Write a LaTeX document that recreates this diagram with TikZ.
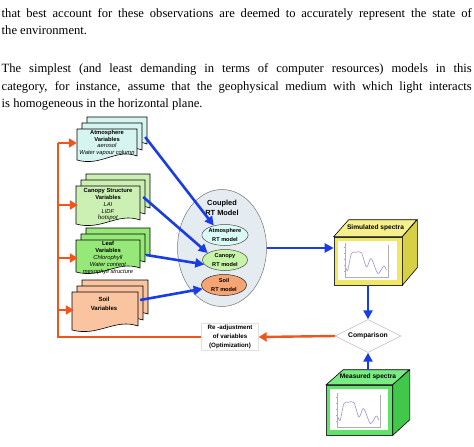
\documentclass[tikz,border=0pt]{standalone}
\usepackage{fontspec}
\setmainfont{Liberation Serif}
\setsansfont{Liberation Sans}
\usetikzlibrary{arrows.meta,shapes.geometric}

\definecolor{fbred}{RGB}{240,85,30}
\definecolor{linkblue}{RGB}{25,60,230}
\definecolor{atmfill}{RGB}{214,245,240}
\definecolor{canfill}{RGB}{204,240,180}
\definecolor{leaffill}{RGB}{150,232,120}
\definecolor{soilfill}{RGB}{250,196,160}
\definecolor{coupledfill}{RGB}{228,236,242}
\definecolor{atmrtfill}{RGB}{218,250,245}
\definecolor{canrtfill}{RGB}{200,244,170}
\definecolor{soilrtfill}{RGB}{245,165,115}
\definecolor{simfront}{RGB}{240,232,100}
\definecolor{simtop}{RGB}{245,240,140}
\definecolor{simside}{RGB}{215,208,70}
\definecolor{measfront}{RGB}{95,228,105}
\definecolor{meastop}{RGB}{120,236,130}
\definecolor{measside}{RGB}{65,200,75}
\definecolor{plotline}{RGB}{150,150,215}
\definecolor{plotaxis}{RGB}{175,175,175}

\tikzset{
  bodyline/.style = {anchor = base west, inner sep = 0pt,
      font = \fontsize{12.6}{17.3}\selectfont},
  varlabel/.style = {align = center, inner sep = 0pt, minimum width = 60pt,
      font = \sffamily\fontsize{5.8}{6.8}\selectfont},
  rtmodel/.style = {ellipse, draw = black!70, line width = 0.5pt,
      minimum width = 45pt, minimum height = 21pt, inner sep = 0pt, align = center,
      font = \sffamily\bfseries\fontsize{5.6}{8.3}\selectfont},
  cubelabel/.style = {inner sep = 0pt, font = \sffamily\bfseries\fontsize{6.6}{7}\selectfont},
  feedback/.style = {draw = fbred, line width = 2.4pt},
  fbarrow/.style = {feedback, -{Triangle[length = 8pt, width = 9pt]}},
  link/.style = {draw = linkblue, line width = 2.6pt, -{Triangle[length = 9pt, width = 9pt]}}
}

% stack of three pages with wavy bottom: x0, y0, x1, y1, fill
\newcommand{\varstack}[5]{%
  \foreach \d in {10,5,0}
    \draw[fill = #5, line width = 0.6pt]
      ({#1+\d},{#2-1.2*\d}) -- ({#3+\d},{#2-1.2*\d}) -- ({#3+\d},{#4-1.2*\d-4})
      .. controls ({#3+\d-0.35*(#3-#1)},{#4-1.2*\d-12}) and ({#1+\d+0.4*(#3-#1)},{#4-1.2*\d+7}) ..
      ({#1+\d},{#4-1.2*\d}) -- cycle;
}

% little spectrum drawn on the front face of a box
\newcommand{\spectrumbox}[1]{%
  \fill[white] ([shift = {(4pt,-4pt)}]#1.north west) rectangle ([shift = {(-5pt,5pt)}]#1.south east);
  \begin{scope}[shift = {(#1.south west)}]
    \draw[plotaxis, line width = 0.4pt] (11,-42) -- (11,-8) -- (54,-8) -- (54,-40);
    \foreach \t in {-14,-20,-26,-32,-38}
      \draw[plotaxis, line width = 0.3pt] (10,\t) -- (11,\t);
    \draw[plotline, line width = 0.6pt] plot[smooth, tension = 0.5] coordinates
      {(12,-18) (14,-15) (17.7,-31.7) (22,-33) (27.7,-32.7) (32.7,-18.3) (36.7,-26.7)
       (39,-24) (44.3,-11.7) (50,-19.3) (52.7,-15)};
  \end{scope}
}

\begin{document}
\begin{tikzpicture}[x = 1pt, y = -1pt]
\useasboundingbox (0,0) rectangle (474,447);

% text above the figure
\node[bodyline] (line1) at (1.5,17.3) {\makebox[470pt][s]{that best account for these observations are deemed to accurately represent the state of}};
\node[bodyline] (line2) at (1.5,34.6) {the environment.};
\node[bodyline] (line3) at (1.5,72.7) {\makebox[470pt][s]{The simplest (and least demanding in terms of computer resources) models in this}};
\node[bodyline] (line4) at (1.5,90) {\makebox[470pt][s]{category, for instance, assume that the geophysical medium with which light interacts}};
\node[bodyline] (line5) at (1.5,107.3) {is homogeneous in the horizontal plane.};

% input variables
\varstack{77}{129}{137}{160}{atmfill}
\node[varlabel] (atm) at (107,143) {\textbf{Atmosphere}\\\textbf{Variables}\\\textit{aerosol}\\\textit{Water vapour column}};

\varstack{76}{186}{140}{224}{canfill}
\node[varlabel] (can) at (108,205) {\textbf{Canopy Structure}\\\textbf{Variables}\\\textit{LAI}\\\textit{LIDF}\\{\rmfamily\itshape\fontsize{6.8}{6.8}\selectfont hotspot}};

\varstack{76}{240}{140}{272}{leaffill}
\node[varlabel] (leaf) at (108,258) {\textbf{Leaf}\\\textbf{Variables}\\\textit{Chlorophyll}\\\textit{Water content}\\\textit{mesophyll structure}};

\varstack{72}{292}{138}{330}{soilfill}
\node[varlabel,
    font = \sffamily\bfseries\fontsize{6}{9}\selectfont] (soil) at (104,304) {Soil\\Variables};

% coupled model
\node[ellipse,
    draw = black!55,
    line width = 0.5pt,
    fill = coupledfill,
    minimum width = 89pt,
    minimum height = 117pt] (coupled) at (222,248) {};
\node[align = center,
    inner sep = 0pt,
    font = \sffamily\bfseries\fontsize{7.4}{10}\selectfont] (coupledtitle) at (222,208) {Coupled\\RT Model};
\node[rtmodel, fill = atmrtfill] (atmrt) at (225,235) {Atmosphere\\RT model};
\node[rtmodel, fill = canrtfill] (canrt) at (225,260) {Canopy\\RT model};
\node[rtmodel, fill = soilrtfill, draw = black!85] (soilrt) at (224,285) {Soil\\RT model};

\draw[link] ([shift = {(8pt,6pt)}]atm.east) -- (atmrt.140);
\draw[link] ([shift = {(5pt,8pt)}]can.east) -- (canrt.158);
\draw[link] ([shift = {(8pt,3pt)}]leaf.east) -- (canrt.192);
\draw[link] ([shift = {(6pt,4pt)}]soil.east) -- (soilrt.190);

% simulated spectra
\node[rectangle,
    draw = black!80,
    line width = 0.6pt,
    fill = simfront,
    minimum width = 68pt,
    minimum height = 48pt,
    inner sep = 0pt] (sim) at (368,261) {};
\draw[fill = simtop, line width = 0.6pt] (sim.north west) -- ++(15,-17) -- ++(68,0) -- (sim.north east) -- cycle;
\draw[fill = simside, line width = 0.6pt] (sim.north east) -- ++(15,-17) -- ++(0,48) -- (sim.south east) -- cycle;
\spectrumbox{sim}
\node[cubelabel] (simlabel) at ([shift = {(7.5pt,8.5pt)}]sim.north) {Simulated spectra};

\draw[link] (coupled.east) -- (coupled.east -| sim.west);

% comparison
\node[diamond,
    draw = black!30,
    fill = white,
    aspect = 2,
    minimum width = 66pt,
    minimum height = 33pt,
    inner sep = 0pt,
    font = \sffamily\bfseries\fontsize{6.8}{8}\selectfont] (cmp) at (368,336) {Comparison};

\draw[link] (sim.south) -- (cmp.north);

% measured spectra
\node[rectangle,
    draw = black!80,
    line width = 0.6pt,
    fill = measfront,
    minimum width = 66pt,
    minimum height = 50pt,
    inner sep = 0pt] (meas) at (359.5,410) {};
\draw[fill = meastop, line width = 0.6pt] (meas.north west) -- ++(17,-15) -- ++(66,0) -- (meas.north east) -- cycle;
\draw[fill = measside, line width = 0.6pt] (meas.north east) -- ++(17,-15) -- ++(0,50) -- (meas.south east) -- cycle;
\spectrumbox{meas}
\node[cubelabel] (measlabel) at ([shift = {(8.5pt,7.5pt)}]meas.north) {Measured spectra};

\draw[link] ([shift = {(8.5pt,15pt)}]meas.north) -- (cmp.south);

% re-adjustment and feedback loop
\node[rectangle,
    draw = black!12,
    fill = white,
    align = center,
    minimum width = 57pt,
    minimum height = 27pt,
    inner sep = 1pt,
    font = \sffamily\bfseries\fontsize{6.2}{9}\selectfont] (readj) at (230,337) {Re -adjustment\\of variables\\(Optimization)};

\coordinate (fbcorner) at (58,337);
\coordinate (fbtop) at (58,143);

\draw[fbarrow] (cmp.west) -- (readj.east);
\draw[feedback] (readj.west) -- (fbcorner) -- (fbtop);
\draw[fbarrow] (fbtop |- atm.west) -- (atm.west);
\draw[fbarrow] (fbtop |- can.west) -- (can.west);
\draw[fbarrow] (fbtop |- leaf.west) -- (leaf.west);
\draw[fbarrow] ([yshift = -6pt]fbtop |- soil.west) -- ([yshift = -6pt]soil.west);

\end{tikzpicture}
\end{document}
